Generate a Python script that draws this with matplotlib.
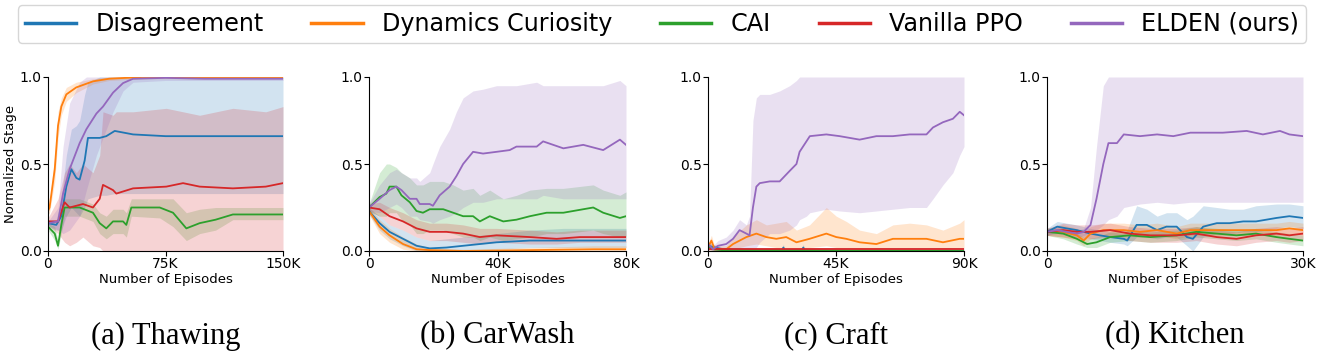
import numpy as np
import matplotlib
matplotlib.use("Agg")
import matplotlib.pyplot as plt
from matplotlib.lines import Line2D

# method names / colours (tab10 defaults)
methods = ["Disagreement", "Dynamics Curiosity", "CAI", "Vanilla PPO", "ELDEN (ours)"]
colors = ["tab:blue", "tab:orange", "tab:green", "tab:red", "tab:purple"]

# ---------------- (a) Thawing, x in K episodes ----------------
th_dis_x = [0, 5.3, 8.5, 11.7, 14.9, 18.1, 20.2, 23.4, 25.5, 33, 37.2, 42.6, 54.3, 75, 100, 125, 150]
th_dis_y = [0.16, 0.15, 0.2, 0.37, 0.47, 0.42, 0.41, 0.52, 0.65, 0.65, 0.66, 0.69, 0.67, 0.66, 0.66, 0.66, 0.66]
th_dis_lo = [0.14, 0.12, 0.12, 0.2, 0.25, 0.22, 0.2, 0.25, 0.3, 0.32, 0.32, 0.33, 0.33, 0.33, 0.33, 0.33, 0.33]
th_dis_hi = [0.18, 0.18, 0.3, 0.55, 0.7, 0.72, 0.75, 0.9, 0.97, 1.0, 1.0, 1.0, 1.0, 1.0, 1.0, 1.0, 1.0]

th_cur_x = [0, 1, 4.3, 6.4, 8.5, 11.7, 18, 28.7, 39, 60, 150]
th_cur_y = [0.23, 0.25, 0.47, 0.72, 0.83, 0.9, 0.94, 0.975, 0.99, 1.0, 1.0]
th_cur_lo = [0.21, 0.22, 0.4, 0.65, 0.78, 0.86, 0.91, 0.96, 0.98, 0.99, 0.99]
th_cur_hi = [0.25, 0.28, 0.55, 0.8, 0.88, 0.94, 0.97, 0.99, 1.0, 1.0, 1.0]

th_cai_x = [0, 4.3, 6.4, 8.5, 10.6, 20.2, 28.7, 33, 37.2, 41.5, 47.9, 50, 53.2, 71.3, 79.8, 88.3, 96.8, 107, 118, 150]
th_cai_y = [0.14, 0.1, 0.03, 0.15, 0.25, 0.25, 0.22, 0.16, 0.13, 0.17, 0.17, 0.15, 0.25, 0.25, 0.22, 0.13, 0.16, 0.18, 0.21, 0.21]
th_cai_lo = [0.12, 0.06, 0.01, 0.1, 0.2, 0.2, 0.17, 0.1, 0.07, 0.1, 0.1, 0.08, 0.2, 0.19, 0.14, 0.06, 0.1, 0.12, 0.18, 0.18]
th_cai_hi = [0.16, 0.14, 0.06, 0.2, 0.3, 0.3, 0.27, 0.22, 0.2, 0.24, 0.24, 0.22, 0.3, 0.3, 0.3, 0.22, 0.24, 0.25, 0.25, 0.25]

th_ppo_x = [0, 6.4, 10.6, 13.8, 18.1, 22.3, 28.7, 33, 35.1, 41.5, 43.6, 54.3, 75.5, 86.2, 96.8, 118, 139, 150]
th_ppo_y = [0.17, 0.17, 0.28, 0.25, 0.26, 0.27, 0.25, 0.3, 0.38, 0.35, 0.33, 0.36, 0.37, 0.39, 0.37, 0.36, 0.37, 0.39]
th_ppo_lo = [0.15, 0.1, 0.05, 0.03, 0.05, 0.08, 0.03, 0.02, 0, 0, 0, 0, 0, 0, 0, 0, 0, 0]
th_ppo_hi = [0.19, 0.3, 0.45, 0.5, 0.45, 0.5, 0.45, 0.55, 0.8, 0.78, 0.8, 0.8, 0.82, 0.8, 0.78, 0.82, 0.8, 0.83]

th_eld_x = [0, 6.4, 9.6, 13.8, 20.2, 24.5, 30.9, 35.1, 41.5, 47.9, 54.3, 75, 100, 125, 150]
th_eld_y = [0.16, 0.17, 0.33, 0.47, 0.62, 0.7, 0.79, 0.83, 0.91, 0.965, 0.99, 0.995, 0.99, 0.99, 0.99]
th_eld_lo = [0.15, 0.12, 0.1, 0.12, 0.2, 0.35, 0.55, 0.65, 0.8, 0.92, 0.97, 0.98, 0.98, 0.98, 0.98]
th_eld_hi = [0.17, 0.25, 0.6, 0.85, 0.97, 1, 1, 1, 1, 1, 1, 1, 1, 1, 1]

# ---------------- (b) CarWash ----------------
cw_dis_x = [0, 3.3, 6.4, 10.6, 14.8, 18.9, 24.1, 29.3, 39.7, 50.1, 60.5, 80]
cw_dis_y = [0.23, 0.16, 0.11, 0.07, 0.03, 0.015, 0.02, 0.03, 0.05, 0.06, 0.06, 0.06]
cw_dis_lo = [0.21, 0.12, 0.07, 0.03, 0, 0, 0, 0, 0.01, 0.02, 0.02, 0.02]
cw_dis_hi = [0.25, 0.2, 0.15, 0.12, 0.08, 0.06, 0.07, 0.08, 0.1, 0.12, 0.13, 0.13]

cw_cur_x = [0, 3.3, 6.4, 10.6, 14.8, 18.9, 29.3, 50, 70, 80]
cw_cur_y = [0.23, 0.14, 0.09, 0.04, 0.01, 0.005, 0.0, 0.005, 0.01, 0.01]
cw_cur_lo = [0.21, 0.1, 0.05, 0.01, 0, 0, 0, 0, 0, 0]
cw_cur_hi = [0.25, 0.18, 0.13, 0.08, 0.04, 0.02, 0.01, 0.02, 0.03, 0.03]

cw_cai_x = [0, 3.3, 5.4, 6.4, 8.5, 10.1, 12.7, 14.8, 16.8, 18.9, 23.1, 26.2, 29.3, 32.4, 34.5, 37.6, 41.8, 45.9, 50.1, 55.3, 60.5, 69.8, 72.9, 78.1, 80]
cw_cai_y = [0.25, 0.31, 0.33, 0.37, 0.37, 0.32, 0.28, 0.23, 0.22, 0.24, 0.24, 0.22, 0.2, 0.2, 0.17, 0.2, 0.17, 0.18, 0.2, 0.22, 0.22, 0.25, 0.22, 0.19, 0.2]
cw_cai_lo = [0.23, 0.2, 0.2, 0.22, 0.22, 0.18, 0.15, 0.1, 0.1, 0.12, 0.12, 0.1, 0.08, 0.08, 0.06, 0.08, 0.06, 0.07, 0.08, 0.1, 0.1, 0.12, 0.1, 0.08, 0.08]
cw_cai_hi = [0.27, 0.45, 0.5, 0.5, 0.48, 0.45, 0.42, 0.38, 0.38, 0.4, 0.4, 0.38, 0.35, 0.36, 0.32, 0.35, 0.3, 0.32, 0.35, 0.36, 0.36, 0.38, 0.35, 0.32, 0.34]

cw_ppo_x = [0, 3.3, 6.4, 10.6, 14.8, 18.9, 24.1, 29.3, 34.5, 39.7, 50.1, 58.4, 65.7, 80]
cw_ppo_y = [0.25, 0.24, 0.2, 0.17, 0.13, 0.11, 0.11, 0.1, 0.08, 0.09, 0.08, 0.07, 0.08, 0.08]
cw_ppo_lo = [0.23, 0.2, 0.15, 0.12, 0.08, 0.06, 0.06, 0.05, 0.04, 0.05, 0.04, 0.04, 0.05, 0.05]
cw_ppo_hi = [0.27, 0.28, 0.25, 0.22, 0.18, 0.16, 0.16, 0.15, 0.13, 0.13, 0.12, 0.11, 0.12, 0.12]

cw_eld_x = [0, 3.3, 6.4, 8.5, 10.1, 12.7, 14.8, 15.8, 18.9, 19.9, 22, 25.1, 27.2, 29.3, 32.4, 35.5, 39.7, 43.8, 45.9, 52.2, 54.2, 60.5, 66.7, 72.9, 78.1, 80]
cw_eld_y = [0.25, 0.3, 0.35, 0.37, 0.35, 0.3, 0.3, 0.27, 0.27, 0.26, 0.32, 0.37, 0.43, 0.5, 0.57, 0.56, 0.57, 0.58, 0.6, 0.6, 0.63, 0.59, 0.61, 0.58, 0.64, 0.61]
cw_eld_lo = [0.23, 0.22, 0.25, 0.27, 0.25, 0.2, 0.2, 0.18, 0.17, 0.16, 0.18, 0.2, 0.22, 0.25, 0.28, 0.28, 0.3, 0.3, 0.3, 0.3, 0.32, 0.3, 0.3, 0.3, 0.3, 0.3]
cw_eld_hi = [0.27, 0.38, 0.45, 0.47, 0.45, 0.42, 0.42, 0.4, 0.45, 0.5, 0.6, 0.7, 0.8, 0.88, 0.92, 0.93, 0.95, 0.95, 0.95, 0.97, 0.95, 0.95, 0.95, 0.95, 0.98, 0.95]

# ---------------- (c) Craft ----------------
cr_dis_x = [0, 5, 20, 26, 26.5, 27, 33, 33.5, 34, 45, 90]
cr_dis_y = [0.03, 0.01, 0.005, 0.005, 0.02, 0.005, 0.005, 0.02, 0.005, 0.0, 0.0]
cr_dis_lo = [0.01, 0, 0, 0, 0, 0, 0, 0, 0, 0, 0]
cr_dis_hi = [0.05, 0.02, 0.01, 0.01, 0.04, 0.01, 0.01, 0.04, 0.01, 0.005, 0.005]

cr_cur_x = [0, 1.2, 2.3, 6.4, 8.8, 13.5, 17, 20.5, 24, 27.5, 31.1, 35.7, 41.6, 45.1, 48.6, 53.3, 59.2, 65, 70.9, 76.8, 82.6, 88.5, 90]
cr_cur_y = [0.02, 0.06, 0.01, 0.01, 0.04, 0.08, 0.1, 0.08, 0.07, 0.08, 0.05, 0.07, 0.1, 0.08, 0.07, 0.05, 0.04, 0.07, 0.07, 0.07, 0.05, 0.07, 0.07]
cr_cur_lo = [0, 0.03, 0, 0, 0.01, 0.03, 0.04, 0.03, 0.02, 0.02, 0.01, 0.02, 0.03, 0.02, 0.02, 0.01, 0.01, 0.02, 0.02, 0.02, 0.01, 0.02, 0.02]
cr_cur_hi = [0.04, 0.09, 0.03, 0.03, 0.08, 0.15, 0.18, 0.15, 0.16, 0.17, 0.12, 0.15, 0.25, 0.2, 0.17, 0.12, 0.1, 0.15, 0.16, 0.15, 0.12, 0.16, 0.18]

cr_cai_x = [0, 2, 5, 90]
cr_cai_y = [0.03, 0.01, 0.005, 0.0]
cr_cai_lo = [0.01, 0, 0, 0]
cr_cai_hi = [0.05, 0.02, 0.01, 0.005]

cr_ppo_x = [0, 5, 30, 60, 90]
cr_ppo_y = [0.01, 0.01, 0.01, 0.01, 0.01]
cr_ppo_lo = [0, 0, 0, 0, 0]
cr_ppo_hi = [0.03, 0.02, 0.02, 0.02, 0.02]

cr_eld_x = [0, 1.8, 3.5, 6.4, 8.8, 11.1, 13.5, 14.6, 15.8, 17, 18.2, 21.7, 25.2, 28.7, 31.1, 32.2, 34.6, 35.8, 41.6, 46.3, 53.3, 59.2, 65, 70.9, 76.8, 79.1, 82.6, 86.1, 88.5, 90]
cr_eld_y = [0.04, 0.01, 0.03, 0.04, 0.07, 0.12, 0.1, 0.09, 0.25, 0.37, 0.39, 0.4, 0.4, 0.46, 0.5, 0.57, 0.63, 0.66, 0.67, 0.66, 0.64, 0.66, 0.66, 0.67, 0.67, 0.71, 0.74, 0.76, 0.8, 0.78]
cr_eld_lo = [0.02, 0, 0, 0, 0, 0, 0, 0, 0, 0.02, 0.05, 0.1, 0.1, 0.12, 0.15, 0.18, 0.2, 0.22, 0.24, 0.23, 0.22, 0.23, 0.24, 0.25, 0.25, 0.3, 0.38, 0.45, 0.55, 0.6]
cr_eld_hi = [0.06, 0.03, 0.06, 0.08, 0.12, 0.18, 0.15, 0.2, 0.75, 0.88, 0.9, 0.9, 0.92, 0.95, 0.98, 1, 1, 1, 1, 1, 1, 1, 1, 1, 1, 1, 1, 1, 1, 1]

# ---------------- (d) Kitchen ----------------
ki_dis_x = [0, 1.2, 2.3, 3.5, 5.1, 6.2, 7.4, 9, 9.4, 10.5, 11.7, 12.9, 14, 15.2, 16.4, 17.1, 18.3, 19.9, 21.4, 23, 24.5, 26.9, 28.4, 30]
ki_dis_y = [0.11, 0.14, 0.13, 0.12, 0.1, 0.09, 0.08, 0.07, 0.06, 0.15, 0.15, 0.12, 0.14, 0.14, 0.08, 0.07, 0.14, 0.16, 0.16, 0.17, 0.17, 0.19, 0.2, 0.19]
ki_dis_lo = [0.09, 0.11, 0.1, 0.09, 0.07, 0.06, 0.05, 0.04, 0.03, 0.08, 0.08, 0.07, 0.08, 0.08, 0.03, 0.0, 0.08, 0.1, 0.1, 0.11, 0.11, 0.13, 0.14, 0.13]
ki_dis_hi = [0.13, 0.17, 0.16, 0.15, 0.13, 0.12, 0.11, 0.1, 0.12, 0.26, 0.24, 0.2, 0.22, 0.22, 0.18, 0.2, 0.26, 0.25, 0.24, 0.24, 0.26, 0.27, 0.27, 0.26]

ki_cur_x = [0, 1.9, 3.5, 4.3, 5.1, 6.6, 9, 10.9, 12.9, 15.2, 16.8, 20.6, 24.5, 26.9, 28.4, 30]
ki_cur_y = [0.11, 0.11, 0.09, 0.06, 0.1, 0.12, 0.12, 0.11, 0.12, 0.1, 0.12, 0.12, 0.12, 0.12, 0.13, 0.12]
ki_cur_lo = [0.09, 0.08, 0.06, 0.03, 0.07, 0.09, 0.09, 0.08, 0.09, 0.07, 0.09, 0.09, 0.09, 0.09, 0.1, 0.09]
ki_cur_hi = [0.13, 0.15, 0.13, 0.1, 0.14, 0.16, 0.16, 0.15, 0.16, 0.14, 0.16, 0.16, 0.16, 0.16, 0.17, 0.16]

ki_cai_x = [0, 1.9, 3.5, 4.7, 5.8, 7.4, 9.7, 12.1, 15.2, 17.5, 19.9, 22.2, 24.5, 26.9, 28.4, 30]
ki_cai_y = [0.11, 0.1, 0.07, 0.04, 0.05, 0.08, 0.09, 0.08, 0.09, 0.11, 0.1, 0.09, 0.1, 0.08, 0.07, 0.06]
ki_cai_lo = [0.09, 0.07, 0.04, 0.02, 0.02, 0.05, 0.06, 0.05, 0.06, 0.08, 0.07, 0.06, 0.07, 0.05, 0.04, 0.03]
ki_cai_hi = [0.13, 0.13, 0.1, 0.07, 0.08, 0.11, 0.12, 0.11, 0.12, 0.14, 0.13, 0.12, 0.13, 0.11, 0.1, 0.09]

ki_ppo_x = [0, 1.9, 3.5, 5.1, 7.4, 9.7, 12.1, 15.2, 17.5, 19.9, 22.2, 24.5, 26.9, 28.4, 30]
ki_ppo_y = [0.11, 0.12, 0.11, 0.11, 0.12, 0.1, 0.09, 0.09, 0.1, 0.08, 0.07, 0.09, 0.1, 0.09, 0.1]
ki_ppo_lo = [0.09, 0.08, 0.07, 0.07, 0.08, 0.06, 0.05, 0.05, 0.06, 0.04, 0.03, 0.05, 0.06, 0.05, 0.06]
ki_ppo_hi = [0.13, 0.16, 0.15, 0.15, 0.16, 0.14, 0.13, 0.13, 0.14, 0.12, 0.11, 0.13, 0.14, 0.13, 0.14]

ki_eld_x = [0, 1.2, 2.3, 3.5, 4.3, 5.1, 5.8, 6.6, 7.2, 8.2, 9, 10.9, 12.9, 14.8, 16.8, 18.7, 20.6, 23.4, 25.3, 27.3, 28.4, 30]
ki_eld_y = [0.11, 0.12, 0.11, 0.1, 0.11, 0.15, 0.3, 0.5, 0.62, 0.62, 0.67, 0.66, 0.67, 0.66, 0.68, 0.68, 0.68, 0.69, 0.67, 0.69, 0.67, 0.66]
ki_eld_lo = [0.09, 0.1, 0.09, 0.08, 0.09, 0.1, 0.12, 0.15, 0.18, 0.2, 0.25, 0.27, 0.28, 0.27, 0.28, 0.28, 0.28, 0.28, 0.28, 0.28, 0.28, 0.28]
ki_eld_hi = [0.13, 0.14, 0.13, 0.12, 0.13, 0.25, 0.6, 0.95, 1, 1, 1, 1, 1, 1, 1, 1, 1, 1, 1, 1, 1, 1]

panels = [
    ("(a) Thawing", 150, ["0", "75K", "150K"], [
        (th_dis_x, th_dis_y, th_dis_lo, th_dis_hi),
        (th_cur_x, th_cur_y, th_cur_lo, th_cur_hi),
        (th_cai_x, th_cai_y, th_cai_lo, th_cai_hi),
        (th_ppo_x, th_ppo_y, th_ppo_lo, th_ppo_hi),
        (th_eld_x, th_eld_y, th_eld_lo, th_eld_hi)]),
    ("(b) CarWash", 80, ["0", "40K", "80K"], [
        (cw_dis_x, cw_dis_y, cw_dis_lo, cw_dis_hi),
        (cw_cur_x, cw_cur_y, cw_cur_lo, cw_cur_hi),
        (cw_cai_x, cw_cai_y, cw_cai_lo, cw_cai_hi),
        (cw_ppo_x, cw_ppo_y, cw_ppo_lo, cw_ppo_hi),
        (cw_eld_x, cw_eld_y, cw_eld_lo, cw_eld_hi)]),
    ("(c) Craft", 90, ["0", "45K", "90K"], [
        (cr_dis_x, cr_dis_y, cr_dis_lo, cr_dis_hi),
        (cr_cur_x, cr_cur_y, cr_cur_lo, cr_cur_hi),
        (cr_cai_x, cr_cai_y, cr_cai_lo, cr_cai_hi),
        (cr_ppo_x, cr_ppo_y, cr_ppo_lo, cr_ppo_hi),
        (cr_eld_x, cr_eld_y, cr_eld_lo, cr_eld_hi)]),
    ("(d) Kitchen", 30, ["0", "15K", "30K"], [
        (ki_dis_x, ki_dis_y, ki_dis_lo, ki_dis_hi),
        (ki_cur_x, ki_cur_y, ki_cur_lo, ki_cur_hi),
        (ki_cai_x, ki_cai_y, ki_cai_lo, ki_cai_hi),
        (ki_ppo_x, ki_ppo_y, ki_ppo_lo, ki_ppo_hi),
        (ki_eld_x, ki_eld_y, ki_eld_lo, ki_eld_hi)]),
]

W, H = 1322, 356
fig = plt.figure(figsize=(W / 100, H / 100), dpi=100)

# axes boxes in pixels: left, right
boxes = [(48, 283), (369, 626), (708, 964), (1047, 1303)]
top_px, bot_px = 77, 251

for i, (caption, xmax, xtl, series) in enumerate(panels):
    l, r = boxes[i]
    ax = fig.add_axes([l / W, 1 - bot_px / H, (r - l) / W, (bot_px - top_px) / H])
    for (x, y, lo, hi), c in zip(series, colors):
        ax.fill_between(x, lo, hi, color=c, alpha=0.2, linewidth=0)
        ax.plot(x, y, color=c, lw=1.3)
    ax.set_xlim(0, xmax)
    ax.set_ylim(0, 1)
    ax.set_xticks([0, xmax / 2, xmax])
    ax.set_xticklabels(xtl)
    ax.set_yticks([0, 0.5, 1.0])
    ax.set_yticklabels(["0.0", "0.5", "1.0"])
    ax.tick_params(labelsize=10, pad=1)
    ax.spines["top"].set_visible(False)
    ax.spines["right"].set_visible(False)
    ax.set_xlabel("Number of Episodes", fontsize=9.5, labelpad=1)
    if i == 0:
        ax.set_ylabel("Normalized Stage", fontsize=9.5, labelpad=2)
    fig.text((l + r) / 2 / W, 1 - 336 / H, caption, ha="center", va="center",
             fontsize=22, family="Liberation Serif")

handles = [Line2D([0], [0], color=c, lw=2.5) for c in colors]
fig.legend(handles, methods, loc="center", ncol=5, fontsize=17.2,
           bbox_to_anchor=(662 / W, 1 - 24 / H), handlelength=2.15,
           handletextpad=0.8, columnspacing=2.0, frameon=True,
           borderpad=0.3, borderaxespad=0)

fig.savefig("out.png", dpi=100)
